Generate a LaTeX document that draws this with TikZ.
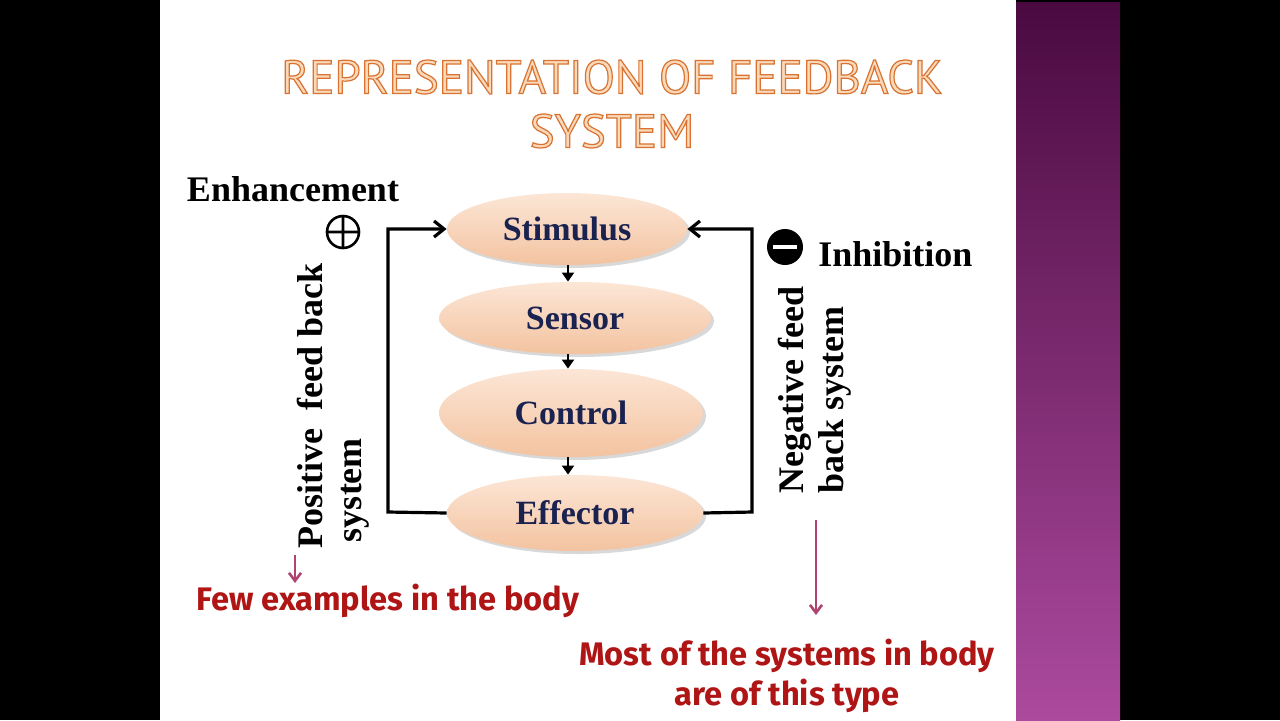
\documentclass[tikz,border=0pt]{standalone}
\usepackage{fontspec}
\setmainfont{Liberation Serif}
\newfontfamily\titlefont{PT Sans}
\newfontfamily\redfont{Fira Sans}
\usetikzlibrary{arrows.meta,shadows,calc,shapes.geometric}
\definecolor{navy}{HTML}{1A2250}
\definecolor{peachA}{HTML}{FCE6D6}
\definecolor{peachB}{HTML}{F3C3A0}
\definecolor{redtxt}{HTML}{B01515}
\definecolor{pinkarr}{HTML}{B04470}
\definecolor{titlefill}{HTML}{FAD9B8}
\definecolor{purpA}{HTML}{4A0A40}
\definecolor{purpB}{HTML}{AC4A9E}
\tikzset{
  oval/.style={ellipse, inner sep=0pt, top color=peachA, bottom color=peachB, draw=none,
    drop shadow={shadow xshift=1.5pt, shadow yshift=-1.5pt, fill=black!30},
    font=\fontsize{17}{19}\selectfont\bfseries, text=navy},
  fb/.style={line width=1.6pt, -{Straight Barb[length=5pt,width=8pt]}},
  small/.style={line width=1pt, -{Triangle[length=4.5pt,width=6pt]}},
  pink/.style={line width=1.3pt, pinkarr, -{Straight Barb[length=4pt,width=6pt]}},
  lbl/.style={font=\fontsize{18}{20}\selectfont\bfseries, inner sep=0pt},
  red/.style={font=\redfont\fontsize{16.3}{19}\selectfont\bfseries, text=redtxt, align=center, inner sep=0pt}
}
\begin{document}
\begin{tikzpicture}[x=0.5pt,y=-0.5pt]
\fill[black] (0,0) rectangle (1280,720);
\useasboundingbox (0,0) rectangle (1280,720);
\fill[white] (160,0) rectangle (1016,720);
\shade[top color=purpA, bottom color=purpB] (1016,2) rectangle (1120,720);
\node (title) at (612,104) [align=center, font=\titlefont\fontsize{23.5}{27}\selectfont, text=titlefill]
 {\special{pdf:literal direct 2 Tr 0.6 w 0.85 0.45 0.2 RG}REPRESENTATION OF FEEDBACK\\SYSTEM\special{pdf:literal direct 0 Tr}};
\node[oval, minimum width=120pt, minimum height=36pt] (stim) at (567,229) {Stimulus};
\node[oval, minimum width=136pt, minimum height=36pt] (sens) at (575,318) {Sensor};
\node[oval, minimum width=132pt, minimum height=44pt] (ctrl) at (571,413) {Control};
\node[oval, minimum width=128pt, minimum height=38pt] (eff) at (575,513) {Effector};
\draw[small] (stim.south -| 568,0) -- (sens.north -| 568,0);
\draw[small] (sens.south -| 568,0) -- (ctrl.north -| 568,0);
\draw[small] (ctrl.south -| 568,0) -- (eff.north -| 568,0);
\coordinate (lb) at (388,512); \coordinate (lt) at (388,229);
\coordinate (rb) at (752,512); \coordinate (rt) at (752,229);
\draw[fb] (eff.west) -- (lb) -- (lt) -- (stim.west);
\draw[fb] (eff.east) -- (rb) -- (rt) -- (stim.east);
\node[lbl] (enh) at (293,189) {Enhancement};
\node (plus) at (343,232) {};
\draw[line width=1.3pt] (plus) circle (8pt) (plus.center)++(-8pt,0) -- ++(16pt,0) (plus.center)++(0,-8pt) -- ++(0,16pt);
\node[circle, fill=black, minimum size=18pt, inner sep=0pt] (minus) at (785,247) {};
\fill[white] ($(minus.center)+(-6pt,-1.2pt)$) rectangle ($(minus.center)+(6pt,1.2pt)$);
\node[lbl, anchor=west] (inh) at (818,254) {Inhibition};
\node[lbl, rotate=90] (pos1) at (310,406) {Positive\ \ feed back};
\node[lbl, rotate=90] (pos2) at (355,490) {system};
\node[lbl, rotate=90] (neg1) at (795,390) {Negative feed};
\node[lbl, rotate=90] (neg2) at (835,400) {back system};
\coordinate (pa) at (295,555); \coordinate (pb) at (295,583);
\draw[pink] (pa) -- (pb);
\coordinate (na) at (816,520); \coordinate (nb) at (816,615);
\draw[pink] (na) -- (nb);
\node[red] (few) at (388,601) {Few examples in the body};
\node[red] (most) at (787,676) {Most of the systems in body\\[1pt]are of this type};
\end{tikzpicture}
\end{document}
